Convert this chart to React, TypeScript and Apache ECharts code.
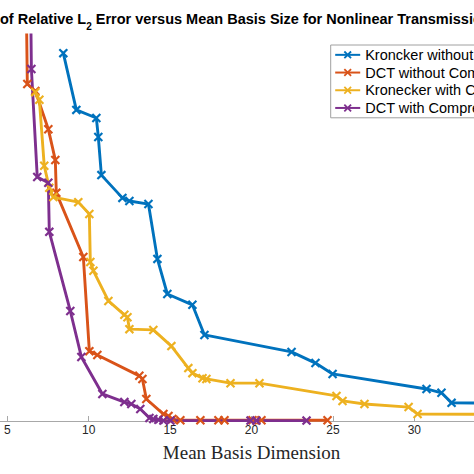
import React, { useEffect, useRef } from 'react';
import * as echarts from 'echarts';

const seriesNames = [
  'Kroncker without Compression',
  'DCT without Compression',
  'Kronecker with Compression',
  'DCT with Compression',
];
const seriesColors = ['#0072BD', '#D95319', '#EDB120', '#7E2F8E'];

const kronNoCompX = [8.44, 9.24, 10.47, 10.59, 10.78, 12.07, 12.5, 13.67, 14.22, 14.83, 16.37, 17.11, 22.46, 23.93, 24.98, 30.75, 31.67, 32.29, 36.5];
const kronNoCompY = [0.953, 0.806, 0.785, 0.736, 0.637, 0.578, 0.57, 0.562, 0.42, 0.329, 0.301, 0.223, 0.179, 0.15, 0.122, 0.083, 0.073, 0.047, 0.046];

const dctNoCompX = [6.15, 6.23, 6.72, 7.52, 7.95, 8.01, 9.67, 10.04, 10.53, 13.11, 13.3, 13.54, 14.59, 14.9, 15.14, 15.63, 16.86, 17.97, 18.34, 20.06, 20.61, 24.67];
const dctNoCompY = [1.14, 0.873, 0.855, 0.756, 0.676, 0.591, 0.425, 0.181, 0.171, 0.117, 0.109, 0.057, 0.018, 0.013, 0.005, 0.002, 0.002, 0.002, 0.002, 0.002, 0.002, 0.002];

const kronCompX = [6.72, 6.97, 7.27, 7.58, 7.83, 9.36, 10.04, 10.1, 10.29, 11.21, 12.19, 12.38, 12.5, 13.97, 15.08, 16.12, 16.37, 16.99, 17.23, 18.71, 20.49, 25.22, 25.59, 26.94, 29.65, 30.2, 36.5];
const kronCompY = [0.852, 0.832, 0.661, 0.604, 0.58, 0.567, 0.536, 0.412, 0.389, 0.311, 0.275, 0.269, 0.238, 0.236, 0.194, 0.137, 0.124, 0.111, 0.109, 0.098, 0.098, 0.065, 0.052, 0.044, 0.036, 0.018, 0.017];

const dctCompX = [6.42, 6.48, 6.84, 7.52, 7.58, 8.87, 9.55, 10.84, 12.19, 12.62, 13.17, 13.73, 13.97, 14.28, 14.59, 15.02, 19.94, 20.3, 23.38];
const dctCompY = [1.14, 0.912, 0.632, 0.617, 0.49, 0.285, 0.166, 0.07, 0.049, 0.044, 0.031, 0.008, 0.005, 0.003, 0.001, 0.001, 0.001, 0.001, 0.001];

const seriesX = [kronNoCompX, dctNoCompX, kronCompX, dctCompX];
const seriesY = [kronNoCompY, dctNoCompY, kronCompY, dctCompY];

const titleMain = 'of Relative L';
const titleSub = '2';
const titleRest = ' Error versus Mean Basis Size for Nonlinear Transmission Line';
const xAxisName = 'Mean Basis Dimension';

const X_MARK = 'path://M0,1.6L1.6,0L5,3.4L8.4,0L10,1.6L6.6,5L10,8.4L8.4,10L5,6.6L1.6,10L0,8.4L3.4,5Z';

const OFFSET = 140;
const CHART_W = 737;

function measure(text: string, font: string): number {
  const c = document.createElement('canvas');
  const ctx = c.getContext('2d');
  if (!ctx) return text.length * 7;
  ctx.font = font;
  return ctx.measureText(text).width;
}

export default function App() {
  const ref = useRef<HTMLDivElement>(null);
  useEffect(() => {
    if (!ref.current) return;
    const chart = echarts.init(ref.current, undefined, { renderer: 'svg' });
    const mainFont = 'bold 14.5px "Liberation Sans"';
    const subFont = 'bold 10px "Liberation Sans"';
    const w1 = measure(titleMain, mainFont);
    const w2 = measure(titleSub, subFont);
    const tx = OFFSET + 0;
    chart.setOption({
      animation: false,
      backgroundColor: '#fff',
      grid: { left: 65.9, right: CHART_W - 65.9 - 651.2, top: 35, bottom: 53, containLabel: false },
      xAxis: {
        type: 'value',
        min: 0,
        max: 40,
        interval: 5,
        name: xAxisName,
        nameLocation: 'middle',
        nameGap: 22,
        nameTextStyle: { fontFamily: '"Liberation Serif"', fontSize: 19, color: '#262626' },
        axisLine: { lineStyle: { color: '#a8a8a8', width: 1 } },
        axisTick: { inside: true, length: 5, lineStyle: { color: '#a8a8a8' } },
        axisLabel: {
          margin: 3,
          fontSize: 12,
          color: '#262626',
          fontFamily: '"Liberation Sans"',
          formatter: (v: number) => (v >= 5 && v <= 30 ? String(v) : ''),
        },
        splitLine: { show: false },
      },
      yAxis: {
        type: 'value',
        min: 0,
        max: 1,
        axisLine: { show: true, lineStyle: { color: '#a8a8a8' } },
        axisTick: { show: false },
        axisLabel: { show: false },
        splitLine: { show: false },
      },
      legend: {
        data: seriesNames,
        orient: 'vertical',
        left: OFFSET + 330.7,
        top: 45,
        itemWidth: 25,
        itemHeight: 10,
        itemGap: 0,
        padding: [1, 12, 1, 3.5],
        borderColor: '#a0a0a0',
        borderWidth: 1,
        backgroundColor: '#fff',
        textStyle: { fontSize: 14.5, fontFamily: '"Liberation Sans"', color: '#000', lineHeight: 17.7 },
      },
      graphic: [
        { type: 'text', x: tx, y: 18.5, style: { text: titleMain, font: mainFont, fill: '#000', verticalAlign: 'middle' } },
        { type: 'text', x: tx + w1, y: 26, style: { text: titleSub, font: subFont, fill: '#000', verticalAlign: 'middle' } },
        { type: 'text', x: tx + w1 + w2, y: 18.5, style: { text: titleRest, font: mainFont, fill: '#000', verticalAlign: 'middle' } },
      ],
      series: seriesNames.map((name, i) => ({
        name,
        type: 'line',
        data: seriesX[i].map((x, j) => [x, seriesY[i][j]]),
        symbol: X_MARK,
        symbolSize: 9.5,
        clip: true,
        color: seriesColors[i],
        lineStyle: { width: 2.9, color: seriesColors[i] },
        itemStyle: { color: seriesColors[i] },
        emphasis: { disabled: true },
      })),
    });
    return () => chart.dispose();
  }, []);
  return (
    <div style={{ position: 'fixed', left: 0, top: 0, width: 474, height: 474, overflow: 'hidden', background: '#fff' }}>
      <div ref={ref} style={{ position: 'absolute', left: -OFFSET, top: 0, width: CHART_W, height: 474 }} />
    </div>
  );
}
